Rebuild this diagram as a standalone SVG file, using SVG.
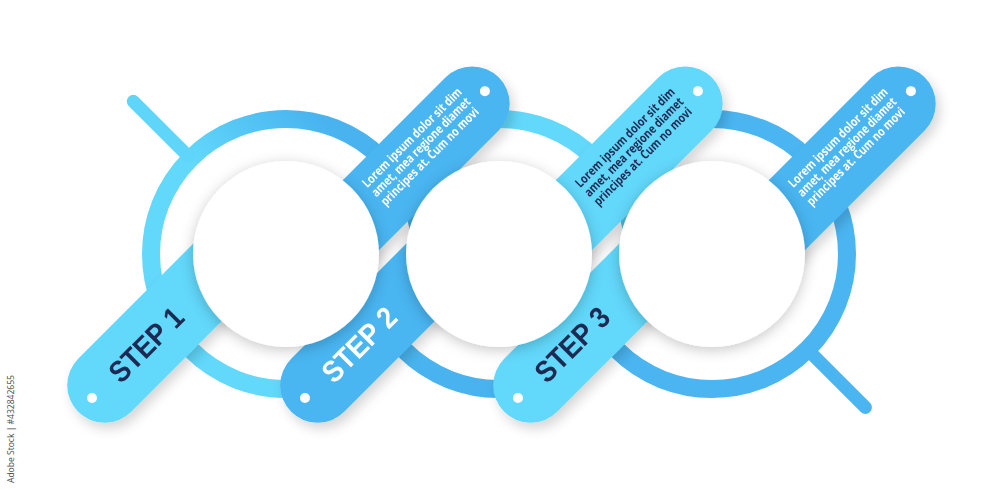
<svg xmlns="http://www.w3.org/2000/svg" width="1000" height="490" viewBox="0 0 1000 490">
<defs>
  <linearGradient id="gRing1" gradientUnits="userSpaceOnUse" x1="286" y1="254" x2="372" y2="168">
    <stop offset="0" stop-color="#62d8fb"/>
    <stop offset="1" stop-color="#48b3ef"/>
  </linearGradient>
  <linearGradient id="gRing2" gradientUnits="userSpaceOnUse" x1="0" y1="150" x2="0" y2="370">
    <stop offset="0" stop-color="#62d8fb"/>
    <stop offset="1" stop-color="#48b3ef"/>
  </linearGradient>
  <filter id="shBand" x="-10%" y="-10%" width="120%" height="130%">
    <feDropShadow dx="4" dy="6" stdDeviation="6" flood-color="#000" flood-opacity="0.16"/>
  </filter>
  <filter id="shCircle" x="-10%" y="-10%" width="120%" height="130%">
    <feDropShadow dx="0" dy="3" stdDeviation="7" flood-color="#000" flood-opacity="0.22"/>
  </filter>
  <style>
    .ring { fill: none; stroke-width: 18; }
    .stick { stroke-width: 13; stroke-linecap: round; }
    .lite { fill: #62d8fb; }
    .dark { fill: #4ab5f1; }
    .dot { fill: #ffffff; }
    .step { font-family: "Liberation Sans", Arial, sans-serif; font-weight: 700; font-size: 30px; }
    .body { font-family: "Open Sans", "Liberation Sans", sans-serif; font-weight: 700; font-size: 12.5px; }
    .navy { fill: #1f2b52; }
    .white { fill: #ffffff; }
    .hole { fill: #ffffff; }
    .credit { font-family: "Open Sans", "Liberation Sans", sans-serif; font-size: 9.5px; fill: #4a4a4a; }
  </style>
</defs>

<rect width="1000" height="490" fill="#ffffff"/>

<!-- rings (connectors / links) -->
<g id="connectors">
  <g id="ring-1">
    <circle class="ring" cx="286" cy="254" r="135" stroke="url(#gRing1)"/>
    <line class="stick" x1="188.4" y1="156.4" x2="133.3" y2="101.3" stroke="#5fd5fa"/>
  </g>
  <g id="ring-2">
    <circle class="ring" cx="499" cy="254" r="135" stroke="url(#gRing2)"/>
  </g>
  <g id="ring-3">
    <circle class="ring" cx="712" cy="254" r="135" stroke="#4ab5f1"/>
    <line class="stick" x1="809.6" y1="351.6" x2="865.4" y2="407.4" stroke="#4ab5f1"/>
  </g>
</g>

<!-- bands -->
<g id="bands" filter="url(#shBand)">
  <g id="step-1" transform="translate(286 254) rotate(-45)">
    <rect class="lite" x="-258.5" y="-72.9" width="258.5" height="75" rx="37.5"/>
    <rect class="dark" x="0" y="-12" width="275.3" height="75" rx="37.5"/>
    <circle class="dot" cx="-239" cy="-35.4" r="5"/>
    <circle class="dot" cx="255.8" cy="25.5" r="5"/>
    <text class="step navy" x="-209" y="-24.5" textLength="92" lengthAdjust="spacingAndGlyphs">STEP 1</text>
    <text class="body white" x="104" y="11" textLength="135" lengthAdjust="spacingAndGlyphs">Lorem ipsum dolor sit dim</text>
    <text class="body white" x="104" y="24" textLength="134" lengthAdjust="spacingAndGlyphs">amet, mea regione diamet</text>
    <text class="body white" x="104" y="37" textLength="133" lengthAdjust="spacingAndGlyphs">principes at. Cum no movi</text>
  </g>
  <g id="step-2" transform="translate(499 254) rotate(-45)">
    <rect class="dark" x="-258.5" y="-72.9" width="258.5" height="75" rx="37.5"/>
    <rect class="lite" x="0" y="-12" width="275.3" height="75" rx="37.5"/>
    <circle class="dot" cx="-239" cy="-35.4" r="5"/>
    <circle class="dot" cx="255.8" cy="25.5" r="5"/>
    <text class="step white" x="-209" y="-24.5" textLength="92" lengthAdjust="spacingAndGlyphs">STEP 2</text>
    <text class="body navy" x="104" y="11" textLength="135" lengthAdjust="spacingAndGlyphs">Lorem ipsum dolor sit dim</text>
    <text class="body navy" x="104" y="24" textLength="134" lengthAdjust="spacingAndGlyphs">amet, mea regione diamet</text>
    <text class="body navy" x="104" y="37" textLength="133" lengthAdjust="spacingAndGlyphs">principes at. Cum no movi</text>
  </g>
  <g id="step-3" transform="translate(712 254) rotate(-45)">
    <rect class="lite" x="-258.5" y="-72.9" width="258.5" height="75" rx="37.5"/>
    <rect class="dark" x="0" y="-12" width="275.3" height="75" rx="37.5"/>
    <circle class="dot" cx="-239" cy="-35.4" r="5"/>
    <circle class="dot" cx="255.8" cy="25.5" r="5"/>
    <text class="step navy" x="-209" y="-24.5" textLength="92" lengthAdjust="spacingAndGlyphs">STEP 3</text>
    <text class="body white" x="104" y="11" textLength="135" lengthAdjust="spacingAndGlyphs">Lorem ipsum dolor sit dim</text>
    <text class="body white" x="104" y="24" textLength="134" lengthAdjust="spacingAndGlyphs">amet, mea regione diamet</text>
    <text class="body white" x="104" y="37" textLength="133" lengthAdjust="spacingAndGlyphs">principes at. Cum no movi</text>
  </g>
</g>

<!-- white step circles -->
<g id="circles" filter="url(#shCircle)">
  <g id="circle-1"><circle class="hole" cx="286" cy="254" r="93"/></g>
  <g id="circle-2"><circle class="hole" cx="499" cy="254" r="93"/></g>
  <g id="circle-3"><circle class="hole" cx="712" cy="254" r="93"/></g>
</g>

<text class="credit" transform="translate(14 483) rotate(-90)" textLength="108" lengthAdjust="spacingAndGlyphs">Adobe Stock | #432842655</text>
</svg>
